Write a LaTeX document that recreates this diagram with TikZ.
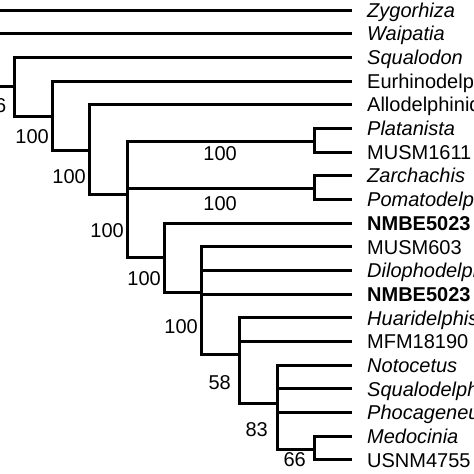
\documentclass[tikz,border=0pt]{standalone}
\usepackage{fontspec}
\setmainfont{Liberation Sans}
\begin{document}
\begin{tikzpicture}[x=1pt,y=-1pt,
  branch/.style={line width=3pt, line join=miter, draw=black},
  tiplab/.style={anchor=base west, inner sep=0pt, font=\fontsize{20}{24}\selectfont},
  bslab/.style={anchor=base east, inner sep=0pt, font=\fontsize{20}{24}\selectfont}]
\useasboundingbox (0,0) rectangle (474,474);
\clip (0,0) rectangle (474,474);
% tips
\foreach \i/\nm in {1/t1,2/t2,3/t3,4/t4,5/t5,6/t6,7/t7,8/t8,9/t9,10/t10,11/t11,12/t12,13/t13,14/t14,15/t15,16/t16,17/t17,18/t18,19/t19,20/t20}
  \coordinate (\nm) at (352, {10+23.68*(\i-1)});
% internal nodes
\coordinate (z1) at (0,10);
\coordinate (z2) at (0,33.68);
\coordinate (root) at (0,86.5);
\coordinate (n1) at (14,86.5);
\coordinate (n2) at (52,116);
\coordinate (n3) at (89,150);
\coordinate (n4) at (127,194);
\coordinate (pA) at (314,141);
\coordinate (pB) at (314,188);
\coordinate (n5) at (164,257);
\coordinate (n6) at (201,292);
\coordinate (n7) at (239,354);
\coordinate (n8) at (277,403);
\coordinate (n9) at (314,449);
% branches
\draw[branch] (z1) -- (t1);
\draw[branch] (z2) -- (t2);
\draw[branch] (root) -- (n1);
\draw[branch] (n1) |- (t3);
\draw[branch] (n1) |- (n2);
\draw[branch] (n2) |- (t4);
\draw[branch] (n2) |- (n3);
\draw[branch] (n3) |- (t5);
\draw[branch] (n3) |- (n4);
\draw[branch] (n4) |- (pA);
\draw[branch] (n4) |- (pB);
\draw[branch] (n4) |- (n5);
\draw[branch] (pA) |- (t6);
\draw[branch] (pA) |- (t7);
\draw[branch] (pB) |- (t8);
\draw[branch] (pB) |- (t9);
\draw[branch] (n5) |- (t10);
\draw[branch] (n5) |- (n6);
\draw[branch] (n6) |- (t11);
\draw[branch] (n6) |- (t12);
\draw[branch] (n6) |- (t13);
\draw[branch] (n6) |- (n7);
\draw[branch] (n7) |- (t14);
\draw[branch] (n7) |- (t15);
\draw[branch] (n7) |- (n8);
\draw[branch] (n8) |- (t16);
\draw[branch] (n8) |- (t17);
\draw[branch] (n8) |- (t18);
\draw[branch] (n8) |- (n9);
\draw[branch] (n9) |- (t19);
\draw[branch] (n9) |- (t20);
% tip labels
\node[tiplab] (L1) at ([shift={(15,7.2)}]t1) {\itshape Zygorhiza};
\node[tiplab] (L2) at ([shift={(15,7.2)}]t2) {\itshape Waipatia};
\node[tiplab] (L3) at ([shift={(15,7.2)}]t3) {\itshape Squalodon};
\node[tiplab] (L4) at ([shift={(15,7.2)}]t4) {Eurhinodelphinidae};
\node[tiplab] (L5) at ([shift={(15,7.2)}]t5) {Allodelphinidae};
\node[tiplab] (L6) at ([shift={(15,7.2)}]t6) {\itshape Platanista};
\node[tiplab] (L7) at ([shift={(15,7.2)}]t7) {MUSM1611};
\node[tiplab] (L8) at ([shift={(15,7.2)}]t8) {\itshape Zarchachis};
\node[tiplab] (L9) at ([shift={(15,7.2)}]t9) {\itshape Pomatodelphis};
\node[tiplab] (L10) at ([shift={(15,7.2)}]t10) {\bfseries NMBE5023};
\node[tiplab] (L11) at ([shift={(15,7.2)}]t11) {MUSM603};
\node[tiplab] (L12) at ([shift={(15,7.2)}]t12) {\itshape Dilophodelphis};
\node[tiplab] (L13) at ([shift={(15,7.2)}]t13) {\bfseries NMBE5023};
\node[tiplab] (L14) at ([shift={(15,7.2)}]t14) {\itshape Huaridelphis};
\node[tiplab] (L15) at ([shift={(15,7.2)}]t15) {MFM18190};
\node[tiplab] (L16) at ([shift={(15,7.2)}]t16) {\itshape Notocetus};
\node[tiplab] (L17) at ([shift={(15,7.2)}]t17) {\itshape Squalodelphis};
\node[tiplab] (L18) at ([shift={(15,7.2)}]t18) {\itshape Phocageneus};
\node[tiplab] (L19) at ([shift={(15,7.2)}]t19) {\itshape Medocinia};
\node[tiplab] (L20) at ([shift={(15,7.2)}]t20) {USNM4755};
% support values
\node[bslab] (b0) at (6.5,112) {96};
\node[bslab] (b2) at (49,143) {100};
\node[bslab] (b3) at (86,183) {100};
\node[bslab] (b4) at (124,237) {100};
\node[bslab] (bA) at (237,160) {100};
\node[bslab] (bB) at (237,210) {100};
\node[bslab] (b5) at (161,285) {100};
\node[bslab] (b6) at (198,333) {100};
\node[bslab] (b7) at (231,389) {58};
\node[bslab] (b8) at (268,436) {83};
\node[bslab] (b9) at (306,466) {66};
\end{tikzpicture}
\end{document}
